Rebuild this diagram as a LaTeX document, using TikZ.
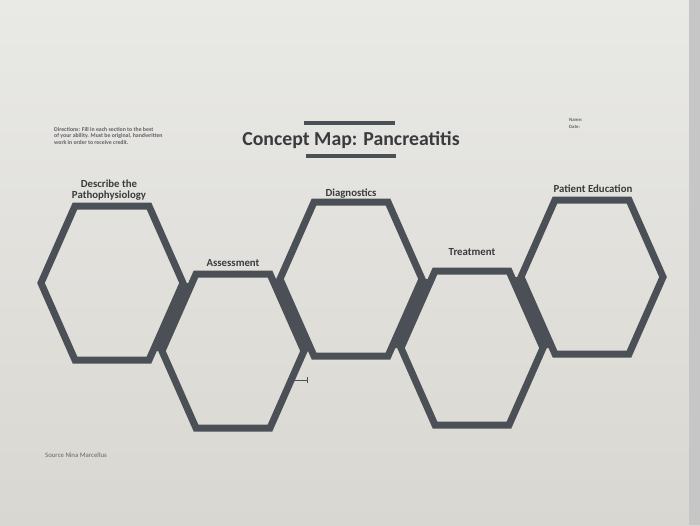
\documentclass[tikz,border=0pt]{standalone}
\usepackage{fontspec}
\setmainfont{Carlito}
\begin{document}
\begin{tikzpicture}[x=1pt,y=-1pt,
  hexline/.style={draw=hexgray,line width=7pt,line join=miter},
  band/.style={fill=hexgray},
  lbl/.style={font=\fontsize{10.8}{11.5}\selectfont\bfseries,text=txtgray,inner sep=0pt,align=center},
  tiny/.style={font=\fontsize{5.8}{6.6}\selectfont\bfseries,text=txtgray!80,inner sep=0pt,align=left},
  bar/.style={draw=hexgray,line width=4pt},
  hexa/.pic={\path[hexline] (-37,-77) -- (37,-77) -- (71,0) -- (37,77) -- (-37,77) -- (-71,0) -- cycle;}
]
\definecolor{hexgray}{HTML}{4B5057}
\definecolor{txtgray}{HTML}{3A3B3D}
\definecolor{bgtop}{HTML}{E9E9E6}
\definecolor{bgbot}{HTML}{D9D7D1}
\useasboundingbox (0,0) rectangle (700,525);
\shade[top color=bgtop,bottom color=bgbot] (0,0) rectangle (700,525);
\fill[gray!45] (689,0) rectangle (700,525);

% overlap bands between neighbouring hexagons
\path[band] (183,283) -- (192,283) -- (162,351) -- (153,351) -- cycle;
\path[band] (272.2,279) -- (280,279) -- (311.8,351) -- (304,351) -- cycle;
\path[band] (422,279) -- (431.5,279) -- (401,348) -- (391.5,348) -- cycle;
\path[band] (511.6,277) -- (521,277) -- (552.4,348) -- (543,348) -- cycle;

% hexagons
\pic at (112,283) {hexa};
\pic at (233,351) {hexa};
\pic at (351,279) {hexa};
\pic at (472,348) {hexa};
\pic at (592,277) {hexa};

% title
\node[font=\fontsize{19.8}{22}\selectfont\bfseries,text=txtgray,inner sep=0pt] (title) at (351,140) {Concept Map: Pancreatitis};
\draw[bar] (304,123) -- (395,123);
\draw[bar] (306,156) -- (396,156);

% labels
\node[lbl] (patho) at (109,190) {Describe the\\Pathophysiology};
\node[lbl] (assess) at (233,263) {Assessment};
\node[lbl] (diag) at (351,194) {Diagnostics};
\node[lbl] (treat) at (472,252) {Treatment};
\node[lbl] (edu) at (593,189) {Patient Education};

% small texts
\node[tiny,anchor=north west] (dir) at (54,127) {Directions: Fill in each section to the best\\of your ability. Must be original, handwritten\\work in order to receive credit.};
\node[tiny,font=\fontsize{4.8}{6.8}\selectfont\bfseries,anchor=north west] (name) at (569,118) {Name:\\Date:};
\node[font=\fontsize{6.8}{7}\selectfont,text=gray!80!black,inner sep=0pt,anchor=west] (src) at (45,455) {Source Nina Marcellus};

% cursor
\draw[hexgray,line width=0.6pt] (293,377) -- (293,383) (293,380) -- (307,380) (307,377) -- (307,383);
\end{tikzpicture}
\end{document}
